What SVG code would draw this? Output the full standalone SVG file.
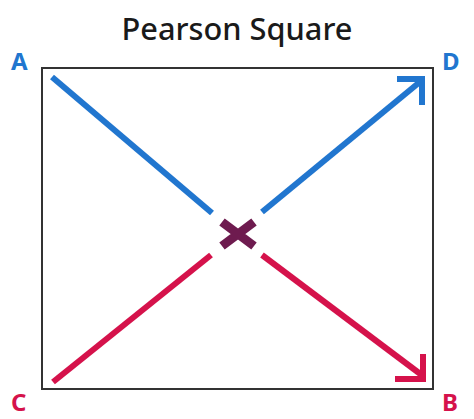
<svg xmlns="http://www.w3.org/2000/svg" width="474" height="419" viewBox="0 0 474 419">
<style>
.lbl{font-family:"Noto Sans","Liberation Sans",sans-serif;font-weight:bold;font-size:24px}
.blue{stroke:#2176cf;stroke-width:6;fill:none}
.red{stroke:#d5124b;stroke-width:6;fill:none}
</style>
<rect width="474" height="419" fill="#fff"/>
<text x="237" y="40" text-anchor="middle" font-family="Noto Sans, Liberation Sans, sans-serif" font-size="31" font-weight="500" fill="#1a1a1a" textLength="231" lengthAdjust="spacingAndGlyphs">Pearson Square</text>
<g id="square"><rect x="42" y="68" width="391" height="321" fill="none" stroke="#333" stroke-width="2"/></g>
<g id="A"><text class="lbl" x="11" y="70" fill="#2176cf">A</text></g>
<g id="D"><text class="lbl" x="442" y="70" fill="#2176cf">D</text></g>
<g id="C"><text class="lbl" x="11" y="411" fill="#d5124b">C</text></g>
<g id="B"><text class="lbl" x="442" y="411" fill="#d5124b">B</text></g>
<g id="X"><path d="M222 222 L254 246 M254 222 L222 246" stroke="#6e1b4f" stroke-width="9" fill="none"/></g>
<g id="connectors">
<line class="blue" x1="52" y1="77" x2="212" y2="213"/>
<line class="blue" x1="262" y1="212" x2="421" y2="81"/>
<polyline class="blue" points="397,79 422,79 422,105"/>
<line class="red" x1="53" y1="382" x2="211" y2="255"/>
<line class="red" x1="262" y1="255" x2="423" y2="376"/>
<polyline class="red" points="395,379 423,379 423,354"/>
</g>
</svg>
